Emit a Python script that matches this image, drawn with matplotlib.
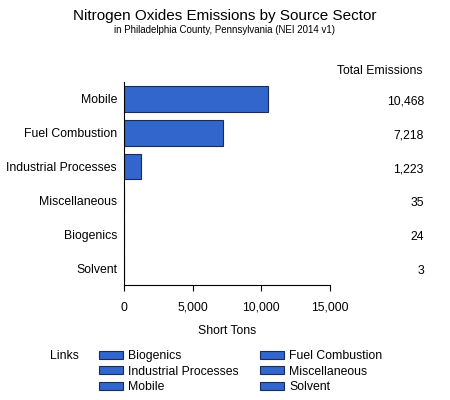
import matplotlib.pyplot as plt
from matplotlib.patches import Patch

plt.rcParams['font.family'] = ['Liberation Sans', 'DejaVu Sans']

sectors = ["Mobile", "Fuel Combustion", "Industrial Processes",
           "Miscellaneous", "Biogenics", "Solvent"]
emissions = [10468, 7218, 1223, 35, 24, 3]
xticks = [0, 5000, 10000, 15000]
legend_names = ["Biogenics", "Industrial Processes", "Mobile",
                "Fuel Combustion", "Miscellaneous", "Solvent"]

bar_color = "#3366cc"
edge_color = "#1a2a5a"

fig = plt.figure(figsize=(4.5, 4), dpi=100)
ax = fig.add_axes([124/450, 1-285/400, (330-124)/450, (285-82)/400])

y = list(range(len(sectors)))
ax.barh(y, emissions, height=0.76, color=bar_color, edgecolor=edge_color, linewidth=0.8)
ax.set_ylim(len(sectors)-0.5, -0.5)
ax.set_xlim(0, 15000)
ax.set_yticks(y)
ax.set_yticklabels(sectors, fontsize=8.8)
ax.tick_params(axis='y', length=0, pad=5)
ax.set_xticks(xticks)
ax.set_xticklabels(["{:,}".format(v) for v in xticks], fontsize=8.8)
ax.tick_params(axis='x', length=4, width=0.8, pad=8)
ax.spines['top'].set_visible(False)
ax.spines['right'].set_visible(False)
for s in ('left', 'bottom'):
    ax.spines[s].set_linewidth(0.8)
ax.set_xlabel("Short Tons", fontsize=8.8, labelpad=8)

fig.text(0.5, 1-16/400, "Nitrogen Oxides Emissions by Source Sector",
         ha='center', va='center', fontsize=11)
fig.text(0.5, 1-30/400, "in Philadelphia County, Pennsylvania (NEI 2014 v1)",
         ha='center', va='center', fontsize=7)
fig.text(380/450, 1-71/400, "Total Emissions", ha='center', va='center', fontsize=8.8)
for i, v in enumerate(emissions):
    yy = 82 + (i + 0.5) * (203/6) + 3
    fig.text(424/450, 1-yy/400, "{:,}".format(v), ha='right', va='center', fontsize=8.8)

fig.text(50/450, 1-356/400, "Links", ha='left', va='center', fontsize=8.8)
handles = [Patch(facecolor=bar_color, edgecolor=edge_color, linewidth=0.8) for _ in legend_names]
fig.legend(handles, legend_names, ncol=2, loc='upper left',
           bbox_to_anchor=(99/450, 1-350/400), frameon=False, fontsize=8.8,
           handlelength=2.0, handleheight=0.65, handletextpad=0.4,
           columnspacing=1.7, labelspacing=0.3, borderpad=0, borderaxespad=0)

fig.savefig("out.png", dpi=100)
